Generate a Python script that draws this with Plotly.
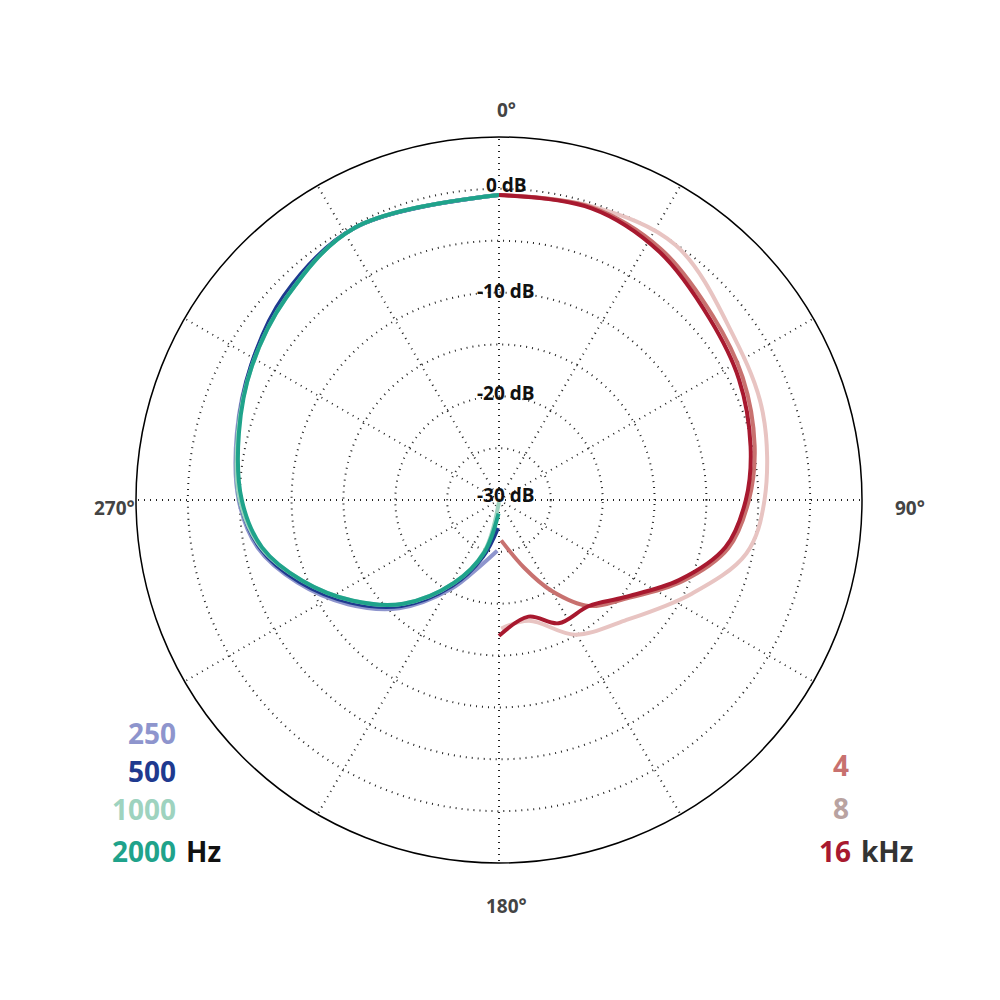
import plotly.graph_objects as go

# Left half (low frequencies), angle in degrees (clockwise from top), level in dB
ang_low = [360, 332, 313.5, 298.5, 284.5, 270, 258.7, 247.7, 235.4, 222.7, 208.5, 195.8, 182]
db_250 = [-0.6, -0.3, -1.6, -2.8, -3.9, -4.9, -6.3, -9.0, -12.3, -15.8, -20.2, -23.4, -25.1]
db_500 = [-0.6, -0.3, -1.4, -2.8, -4.0, -5.0, -6.5, -9.2, -12.6, -16.1, -20.6, -24.3, -27.3]
db_1000 = [-0.6, -0.3, -1.7, -2.9, -4.0, -5.0, -6.6, -9.5, -12.9, -16.4, -20.9, -24.9, -29.8]
db_2000 = [-0.6, -0.3, -1.7, -2.9, -4.1, -5.2, -6.7, -9.5, -12.9, -16.4, -20.9, -24.7, -28.7]

# Right half (high frequencies)
ang_4k = [0, 17.6, 32.8, 49.3, 63.3, 78, 90, 101.8, 114, 127.8, 139.7, 150, 159.5, 177]
db_4k = [-0.6, -0.4, -1.2, -2.8, -3.7, -4.8, -5.9, -7.4, -10.7, -14.5, -16.6, -19.9, -23.0, -26.1]
ang_8k = [0, 17.6, 34.7, 54.9, 71.6, 90, 102.2, 115.8, 133.8, 150.6, 166, 179]
db_8k = [-0.6, -0.3, -0.1, -2.4, -3.2, -4.4, -5.6, -9.3, -13.2, -15.1, -18.0, -17.6]
ang_16k = [0, 17.6, 32.8, 49.3, 63.3, 78, 90, 101.8, 114, 127.8, 139.7, 154.2, 165.8, 180]
db_16k = [-0.6, -0.5, -1.5, -3.2, -4.1, -5.2, -6.2, -7.7, -11.0, -14.7, -16.6, -16.8, -18.4, -16.9]

series = [
    (ang_low, db_250, "#8e95cd", "250"),
    (ang_low, db_500, "#1e3a8f", "500"),
    (ang_low, db_1000, "#9ed3bf", "1000"),
    (ang_low, db_2000, "#1fa38b", "2000"),
    (ang_8k, db_8k, "#e8c4c2", "8k"),
    (ang_4k, db_4k, "#c8716f", "4k"),
    (ang_16k, db_16k, "#a8192f", "16k"),
]

fig = go.Figure()
for a, d, c, n in series:
    fig.add_trace(go.Scatterpolar(theta=a, r=d, mode="lines", name=n,
                                  line=dict(color=c, width=4, shape="spline"),
                                  showlegend=False))

fig.update_layout(
    width=1000, height=1000, margin=dict(l=0, r=0, t=0, b=0),
    paper_bgcolor="white", plot_bgcolor="white",
    font=dict(family="Open Sans"),
    polar=dict(
        domain=dict(x=[0.128, 0.854], y=[0.145, 0.871]),
        bgcolor="white",
        angularaxis=dict(rotation=90, direction="clockwise", dtick=30,
                         showticklabels=False, ticks="", showline=True,
                         linecolor="black", linewidth=1.5,
                         gridcolor="#222", griddash="1px,5px", gridwidth=1.5),
        radialaxis=dict(range=[-30, 5], dtick=5, tick0=-30, showticklabels=False,
                        ticks="", showline=False,
                        gridcolor="#222", griddash="1px,5px", gridwidth=1.5),
    ),
)

def ann(px, py, text, size=18, color="#222", xanchor="center"):
    fig.add_annotation(x=px / 1000, y=1 - py / 1000, xref="paper", yref="paper",
                       text=text, showarrow=False, xanchor=xanchor, yanchor="middle",
                       font=dict(size=size, color=color, family="Open Sans"))

for py, t in [(177, "0 dB"), (283, "-10 dB"), (385, "-20 dB"), (487, "-30 dB")]:
    ann(498, py, "<b>%s</b>" % t, 19, "#111")
for px, py, t in [(498, 102, "0°"), (902, 500, "90°"), (498, 898, "180°"), (106, 500, "270°")]:
    ann(px, py, "<b>%s</b>" % t, 19, "#444")

ann(170, 725, "<b>250</b>", 28, "#8e95cd", "right")
ann(170, 763, "<b>500</b>", 28, "#1e3a8f", "right")
ann(170, 801, "<b>1000</b>", 28, "#9ed3bf", "right")
ann(170, 843, "<b>2000</b>", 28, "#1fa38b", "right")
ann(176, 843, "<b>Hz</b>", 28, "#111", "left")
ann(843, 757, "<b>4</b>", 28, "#c8716f", "right")
ann(843, 800, "<b>8</b>", 28, "#b9a3a1", "right")
ann(845, 843, "<b>16</b>", 28, "#a8192f", "right")
ann(851, 843, "<b>kHz</b>", 28, "#333", "left")

fig.write_html("out.html")
